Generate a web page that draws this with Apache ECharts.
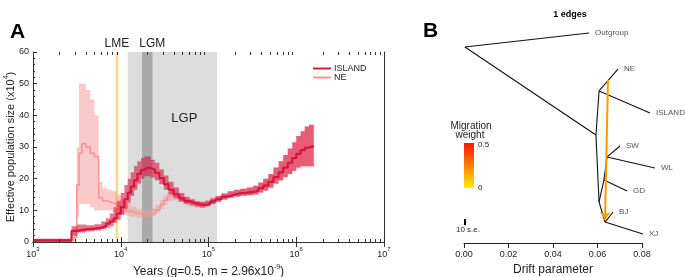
<!DOCTYPE html>
<html>
<head>
<meta charset="utf-8">
<script src="https://cdn.jsdelivr.net/npm/echarts@6/dist/echarts.min.js"></script>
<style>
html, body { margin: 0; padding: 0; background: #fff; }
#main { width: 685px; height: 277px; }
</style>
</head>
<body>
<div id="main"></div>
<script>
// ---- panel A : PSMC, Ne (x10^4) per time step start (years) ----
var islandYears = [1000, 2750, 3200, 4000, 5000, 6000, 6800, 7500, 8300, 9000, 10000, 11000, 12000, 13000, 14200, 15500, 17000, 18500, 20000, 22000, 24500, 27500, 31000, 35000, 40000, 46000, 53000, 61000, 70000, 80000, 92000, 105000, 120000, 140000, 165000, 195000, 230000, 275000, 320000, 370000, 420000, 480000, 550000, 630000, 710000, 800000, 900000, 1000000, 1120000, 1250000, 1400000, 1580000];
var islandNe = [0.5, 3.5, 4.0, 4.2, 4.5, 5.0, 5.8, 6.5, 7.5, 9, 11, 13.5, 15.5, 17.5, 19.5, 21.5, 22.8, 23.4, 23.4, 22.8, 21.8, 20.2, 18.3, 16.5, 15, 13.8, 12.9, 12.3, 11.9, 11.7, 12.1, 12.8, 13.5, 14.3, 14.9, 15.4, 15.6, 15.8, 16.2, 17, 17.8, 19, 20.5, 22, 23.5, 25, 26.5, 27.8, 29, 29.8, 30.3, 30.3];
var islandLo = [0, 2, 3, 3.3, 3.6, 4, 4.5, 5, 6, 7, 8.5, 10.5, 12.5, 14.5, 16.5, 18.5, 20, 20.8, 20.8, 20.3, 19.5, 18.2, 16.5, 15, 13.8, 12.8, 12, 11.5, 11.1, 10.9, 11.3, 12, 12.7, 13.4, 14, 14.4, 14.6, 14.8, 15, 15.6, 16.3, 17.2, 18.5, 19.5, 20.5, 21.5, 22.5, 23.5, 24, 24, 24, 24];
var islandHi = [1, 5, 5.5, 5.3, 5.6, 6.5, 7.5, 9, 11, 13, 15.5, 18, 20, 22, 24, 25.5, 26.5, 27, 27, 26, 25, 23, 21, 19, 17.2, 15.5, 14.3, 13.5, 12.9, 12.7, 13, 13.8, 14.5, 15.3, 16, 16.5, 16.8, 17.2, 17.8, 18.8, 20, 21.5, 23.5, 25.5, 27.5, 29.5, 31.5, 33.5, 35, 36.5, 37, 37];

var neYears = [1000, 2900, 3150, 3350, 3600, 4000, 4500, 5000, 5600, 6200, 7000, 8000, 9000, 10000, 11500, 13000, 15000, 17500, 20000, 22500, 25000, 28000, 31000, 34000, 37500, 41000, 45000, 50000, 55000, 61000, 70000, 80000, 92000, 105000, 120000, 140000, 165000, 195000, 230000, 275000, 320000, 370000, 420000, 480000, 550000, 630000, 710000, 800000, 900000, 1000000, 1120000, 1250000, 1400000, 1600000];
var neNe = [0.5, 1.5, 18, 28, 31, 30, 28, 27, 14, 13, 12.5, 12, 11.3, 10.6, 9.8, 9.2, 8.8, 8.5, 8.6, 9.2, 10.2, 11.8, 13.2, 14.4, 15, 14.7, 14, 13.2, 12.6, 12.2, 11.9, 11.7, 12.1, 12.8, 13.5, 14.3, 14.9, 15.4, 15.6, 15.8, 16.2, 17, 17.8, 19, 20.5, 22, 23.5, 25, 26.5, 27.8, 29, 29.8, 30.3, 30.3];
var neLo = [0, 0.5, 8, 12, 12, 12, 11, 10, 10, 10, 10, 9.5, 9, 8.8, 8.3, 8, 7.8, 7.6, 7.8, 8.3, 9.2, 10.5, 11.8, 12.8, 13.3, 13.2, 12.6, 12, 11.5, 11.3, 11, 10.8, 11.2, 11.9, 12.6, 13.3, 13.9, 14.3, 14.5, 14.7, 14.9, 15.5, 16.2, 17, 18.3, 19.3, 20.3, 21.3, 22.3, 23.2, 23.5, 23.5, 23.5, 23.5];
var neHi = [1, 4, 30, 50, 50, 48, 45, 40, 19, 17, 16.5, 16, 15, 13.5, 12.5, 11.2, 10.5, 10, 10, 10.6, 11.6, 13.2, 14.6, 15.8, 16.3, 16, 15.4, 14.5, 13.8, 13.3, 12.9, 12.7, 13, 13.8, 14.5, 15.3, 16, 16.5, 16.8, 17.2, 17.8, 18.8, 20, 21.5, 23.5, 25.5, 27.5, 29.5, 31.5, 33.5, 35, 36.5, 37, 37];

// climate periods (years)
var periods = [
    { name: 'LGP', from: 12000, to: 125000 },
    { name: 'LGM', from: 17500, to: 23000 },
    { name: 'LME', from: 8750, to: 9350 }
];

// minor ticks of the log axis: 2..9 x 10^n
var minorYears = [];
for (var d = 1000; d < 1e7; d *= 10) {
    for (var k = 2; k <= 9; k++) minorYears.push(k * d);
}

// ---- panel B : TreeMix, drift vs layout row ----
var treeNodes = {
    root: [0.0004, 0.121], Outgroup: [0.0562, 0.058],
    nB: [0.0593, 0.516], nA: [0.0607, 0.318],
    NE: [0.0692, 0.220], ISLAND: [0.0836, 0.417],
    nD: [0.0607, 0.816], nE: [0.0629, 0.717], nC: [0.0643, 0.614],
    SW: [0.0701, 0.565], WL: [0.0858, 0.664], GD: [0.0733, 0.767],
    nF: [0.0634, 0.906], BJ: [0.0670, 0.861], XJ: [0.0804, 0.960]
};
var treeEdges = [
    ['root', 'Outgroup'], ['root', 'nB'], ['nB', 'nA'], ['nA', 'NE'], ['nA', 'ISLAND'],
    ['nB', 'nD'], ['nD', 'nE'], ['nE', 'nC'], ['nC', 'SW'], ['nC', 'WL'], ['nE', 'GD'],
    ['nD', 'nF'], ['nF', 'BJ'], ['nF', 'XJ']
];
var leaves = ['Outgroup', 'NE', 'ISLAND', 'SW', 'WL', 'GD', 'BJ', 'XJ'];
var migration = { from: [0.0647, 0.269], to: [0.0634, 0.897], weight: 0.4 };

var FONT = 'Liberation Sans, Arial, sans-serif';
var islandColor = '#d8153f';
var neColor = '#f59393';

function bandRenderer(years, lo, hi, color, opacity) {
    return function (params, api) {
        if (params.dataIndex !== 0) return null;
        var top = [], bottom = [];
        for (var i = 0; i < years.length - 1; i++) {
            top.push(api.coord([years[i], hi[i]]), api.coord([years[i + 1], hi[i]]));
            bottom.push(api.coord([years[i], lo[i]]), api.coord([years[i + 1], lo[i]]));
        }
        return {
            type: 'polygon',
            shape: { points: top.concat(bottom.reverse()) },
            style: { fill: color, opacity: opacity }
        };
    };
}

var supRich = {
    base: { fontSize: 9, lineHeight: 13, verticalAlign: 'bottom', fontFamily: FONT, color: '#222' },
    sup: { fontSize: 6, lineHeight: 13, verticalAlign: 'top', fontFamily: FONT, color: '#222' }
};

var chart = echarts.init(document.getElementById('main'));

var option = {
    animation: false,
    textStyle: { fontFamily: FONT },
    grid: [
        { left: 33, top: 52, width: 351, height: 190, outerBoundsMode: 'none' },
        { left: 464, top: 20, width: 178, height: 223, outerBoundsMode: 'none' }
    ],
    legend: {
        data: ['ISLAND', 'NE'],
        orient: 'vertical',
        left: 308,
        top: 59,
        itemGap: 0,
        itemWidth: 18,
        itemHeight: 2,
        icon: 'rect',
        textStyle: { fontSize: 9, color: '#222', padding: [0, 0, 0, -2] }
    },
    xAxis: [{
        gridIndex: 0, type: 'log', logBase: 10, min: 1000, max: 1e7, z: 10,
        axisLine: { lineStyle: { color: '#333' } },
        axisTick: { inside: true, length: 5, lineStyle: { color: '#333' } },
        axisLabel: {
            formatter: function (v) { return '{base|10}{sup|' + Math.round(Math.log10(v)) + '}'; },
            rich: supRich, margin: 4
        },
        splitLine: { show: false },
        name: 'Years (g=0.5, m = 2.96x10{sup|-9})',
        nameLocation: 'middle', nameGap: 18,
        nameTextStyle: {
            fontSize: 12, color: '#222',
            rich: { sup: { fontSize: 7, verticalAlign: 'top', lineHeight: 16, color: '#222' } }
        }
    }, {
        gridIndex: 0, type: 'log', logBase: 10, min: 1000, max: 1e7, position: 'top', z: 10,
        axisLine: { lineStyle: { color: '#333' } },
        axisTick: { inside: true, length: 5, lineStyle: { color: '#333' } },
        axisLabel: { show: false },
        splitLine: { show: false }
    }, {
        gridIndex: 1, type: 'value', min: 0, max: 0.08, interval: 0.02, position: 'bottom',
        axisLine: { onZero: false, lineStyle: { color: '#222' } },
        axisTick: { length: 5, lineStyle: { color: '#222' } },
        axisLabel: {
            fontSize: 9, color: '#222', margin: 7,
            formatter: function (v) { return v.toFixed(2); }
        },
        splitLine: { show: false },
        name: 'Drift parameter', nameLocation: 'middle', nameGap: 20,
        nameTextStyle: { fontSize: 12, color: '#222' }
    }],
    yAxis: [{
        gridIndex: 0, type: 'value', min: 0, max: 60, interval: 10, z: 10,
        axisLine: { show: true, lineStyle: { color: '#333' } },
        axisTick: { show: true, inside: true, length: 4, lineStyle: { color: '#333' } },
        minorTick: { show: true, splitNumber: 5, length: 2, lineStyle: { color: '#333' } },
        axisLabel: { fontSize: 9, color: '#222', margin: 4 },
        splitLine: { show: false },
        name: 'Effective population size (x10{sup|4})',
        nameLocation: 'middle', nameGap: 15, nameMoveOverlap: false,
        nameTextStyle: {
            fontSize: 11, color: '#222',
            rich: { sup: { fontSize: 7, verticalAlign: 'top', lineHeight: 15, color: '#222' } }
        }
    }, {
        gridIndex: 0, type: 'value', min: 0, max: 60, position: 'right', z: 10,
        axisLine: { show: true, lineStyle: { color: '#333' } },
        axisTick: { show: false }, axisLabel: { show: false }, splitLine: { show: false }
    }, {
        gridIndex: 1, type: 'value', min: 0, max: 1, inverse: true, show: false
    }],
    graphic: [
        { type: 'text', left: 10, top: 22, style: { text: 'A', font: 'bold 21px ' + FONT, fill: '#000' } },
        { type: 'text', left: 423, top: 21, style: { text: 'B', font: 'bold 21px ' + FONT, fill: '#000' } },
        { type: 'text', x: 570, y: 15, style: { text: '1 edges', font: 'bold 9px ' + FONT, fill: '#000', align: 'center', verticalAlign: 'middle' } },
        { type: 'text', x: 471, y: 126, style: { text: 'Migration', font: '10px ' + FONT, fill: '#222', align: 'center', verticalAlign: 'middle' } },
        { type: 'text', x: 470, y: 135, style: { text: 'weight', font: '10px ' + FONT, fill: '#222', align: 'center', verticalAlign: 'middle' } },
        {
            type: 'rect', shape: { x: 464, y: 143, width: 10, height: 45 },
            style: {
                fill: new echarts.graphic.LinearGradient(0, 0, 0, 1, [
                    { offset: 0, color: '#ff1500' },
                    { offset: 0.5, color: '#ff8000' },
                    { offset: 1, color: '#ffee00' }
                ])
            }
        },
        { type: 'text', x: 478, y: 145, style: { text: '0.5', font: '8px ' + FONT, fill: '#222', verticalAlign: 'middle' } },
        { type: 'text', x: 478, y: 188, style: { text: '0', font: '8px ' + FONT, fill: '#222', verticalAlign: 'middle' } },
        { type: 'line', shape: { x1: 465, y1: 219, x2: 465, y2: 225 }, style: { stroke: '#000', lineWidth: 2 } },
        { type: 'text', x: 468, y: 230, style: { text: '10 s.e.', font: '8px ' + FONT, fill: '#222', align: 'center', verticalAlign: 'middle' } }
    ],
    series: [
        {
            // climate period shading
            type: 'line', xAxisIndex: 0, yAxisIndex: 0, z: 1, data: [], silent: true,
            markArea: {
                silent: true,
                data: [
                    [{ xAxis: periods[0].from, itemStyle: { color: '#dcdcdc' },
                       label: { show: true, position: 'insideTop', offset: [12, 55], fontSize: 13, color: '#222' }, name: periods[0].name },
                     { xAxis: periods[0].to }],
                    [{ xAxis: periods[1].from, itemStyle: { color: '#a9a9a9' },
                       label: { show: true, position: 'top', distance: 2, offset: [5, 0], fontSize: 12, color: '#222' }, name: periods[1].name },
                     { xAxis: periods[1].to }],
                    [{ xAxis: periods[2].from, itemStyle: { color: '#f8d88a' },
                       label: { show: true, position: 'top', distance: 2, fontSize: 12, color: '#222' }, name: periods[2].name },
                     { xAxis: periods[2].to }]
                ]
            }
        },
        {
            type: 'custom', xAxisIndex: 0, yAxisIndex: 0, z: 2, silent: true,
            renderItem: bandRenderer(neYears, neLo, neHi, neColor, 0.5),
            data: [[neYears[0], neLo[0]]]
        },
        {
            name: 'NE', type: 'line', xAxisIndex: 0, yAxisIndex: 0, z: 3, step: 'end',
            showSymbol: false, color: neColor,
            lineStyle: { width: 1.5, color: neColor },
            data: neYears.map(function (t, i) { return [t, neNe[i]]; })
        },
        {
            type: 'custom', xAxisIndex: 0, yAxisIndex: 0, z: 4, silent: true,
            renderItem: bandRenderer(islandYears, islandLo, islandHi, islandColor, 0.6),
            data: [[islandYears[0], islandLo[0]]]
        },
        {
            name: 'ISLAND', type: 'line', xAxisIndex: 0, yAxisIndex: 0, z: 5, step: 'end',
            showSymbol: false, color: islandColor,
            lineStyle: { width: 2.2, color: islandColor },
            data: islandYears.map(function (t, i) { return [t, islandNe[i]]; })
        },
        {
            // minor log ticks, bottom and top
            type: 'custom', xAxisIndex: 0, yAxisIndex: 0, z: 10, silent: true,
            renderItem: function (params, api) {
                var b = api.coord([api.value(0), 0]);
                var t = api.coord([api.value(0), 60]);
                var x = Math.round(b[0]) + 0.5;
                return {
                    type: 'group',
                    children: [
                        { type: 'line', shape: { x1: x, y1: b[1], x2: x, y2: b[1] - 3 }, style: { stroke: '#333', lineWidth: 1 } },
                        { type: 'line', shape: { x1: x, y1: t[1], x2: x, y2: t[1] + 3 }, style: { stroke: '#333', lineWidth: 1 } }
                    ]
                };
            },
            data: minorYears.map(function (v) { return [v, 0]; })
        },
        {
            type: 'lines', coordinateSystem: 'cartesian2d', xAxisIndex: 2, yAxisIndex: 2, z: 3, silent: true, clip: false,
            lineStyle: { color: '#111', width: 1.1, opacity: 1 },
            data: treeEdges.map(function (e) { return { coords: [treeNodes[e[0]], treeNodes[e[1]]] }; })
        },
        {
            type: 'lines', coordinateSystem: 'cartesian2d', xAxisIndex: 2, yAxisIndex: 2, z: 4, silent: true, clip: false,
            symbol: ['none', 'arrow'], symbolSize: 8,
            lineStyle: { color: '#ff9a00', width: 2, opacity: 1 },
            data: [{ coords: [migration.from, migration.to] }]
        },
        {
            type: 'scatter', xAxisIndex: 2, yAxisIndex: 2, z: 5, silent: true, clip: false, symbolSize: 0,
            label: {
                show: true, position: 'right', distance: 6, fontSize: 8, color: '#222',
                formatter: function (p) { return p.name; }
            },
            data: leaves.map(function (n) { return { name: n, value: treeNodes[n] }; })
        }
    ]
};

chart.setOption(option);
</script>
</body>
</html>
